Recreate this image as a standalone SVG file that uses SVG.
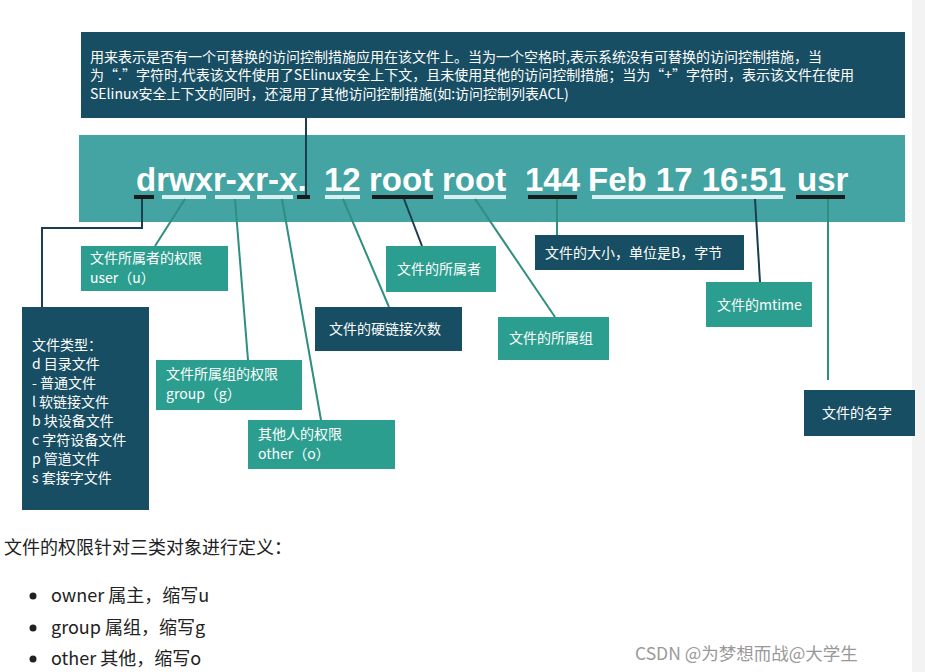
<svg xmlns="http://www.w3.org/2000/svg" width="925" height="672" viewBox="0 0 925 672">
<style>
.d{fill:#174e63}.t{fill:#2c9e8f}
.w{fill:#fff;font-family:"Noto Sans CJK SC","Liberation Sans",sans-serif;font-size:14px}
.big{fill:#fff;font-family:"Liberation Sans",sans-serif;font-weight:bold;font-size:33px}
.cd{stroke:#1a3e4f;stroke-width:2;fill:none}.ct{stroke:#2e8f80;stroke-width:2;fill:none}
.k{fill:#1a1a1a}.l{fill:#d9eeee}
.b{fill:#222;font-family:"Noto Sans CJK SC","Liberation Sans",sans-serif;font-size:18px}
</style>
<rect width="925" height="672" fill="#fff"/>
<rect x="912" y="0" width="13" height="672" fill="#f3f3f3"/>
<g id="acl"><rect class="d" x="81" y="32" width="824" height="86"/>
<text class="w" font-size="13"><tspan x="90" y="62">用来表示是否有一个可替换的访问控制措施应用在该文件上。当为一个空格时,表示系统没有可替换的访问控制措施，当</tspan><tspan x="90" y="80">为“.”字符时,代表该文件使用了SElinux安全上下文，且未使用其他的访问控制措施；当为“+”字符时，表示该文件在使用</tspan><tspan x="90" y="99">SElinux安全上下文的同时，还混用了其他访问控制措施(如:访问控制列表ACL)</tspan></text></g>
<g id="band"><rect x="79" y="135" width="826" height="87" fill="#44a4a4"/>
<text class="big" x="136" y="191">drwxr-xr-x.</text><text class="big" x="324" y="191">12</text><text class="big" x="369" y="191">root</text><text class="big" x="442" y="191">root</text><text class="big" x="525" y="191">144</text><text class="big" x="588" y="191">Feb 17 16:51</text><text class="big" x="797" y="191">usr</text>
<rect class="k" x="134" y="195" width="20" height="4"/><rect class="l" x="162" y="195" width="44" height="4"/><rect class="l" x="215" y="195" width="35" height="4"/><rect class="l" x="257" y="195" width="36" height="4"/><rect class="k" x="297" y="195" width="13" height="4"/><rect class="l" x="325" y="195" width="35" height="4"/><rect class="k" x="372" y="195" width="61" height="4"/><rect class="l" x="444" y="195" width="62" height="4"/><rect class="k" x="528" y="195" width="49" height="4"/><rect class="l" x="592" y="195" width="191" height="4"/><rect class="k" x="796" y="195" width="49" height="4"/></g>
<g id="connectors">
<path class="cd" d="M306 118V195"/>
<path class="cd" d="M142 199V228H42V307"/>
<path class="ct" d="M185 199L155 246"/>
<path class="ct" d="M235 199L248 360"/>
<path class="ct" d="M282 199L321 420"/>
<path class="ct" d="M343 199L389 307"/>
<path class="cd" d="M404 199L422 246"/>
<path class="ct" d="M475 199L555 317"/>
<path class="ct" d="M557 199V235"/>
<path class="cd" d="M755 199L760 282"/>
<path class="ct" d="M828 199V380"/>
</g>
<g id="type"><rect class="d" x="22" y="307" width="127" height="203"/><text class="w" font-size="13.5"><tspan x="32" y="350">文件类型：</tspan><tspan x="32" y="369">d 目录文件</tspan><tspan x="32" y="388">- 普通文件</tspan><tspan x="32" y="407">l 软链接文件</tspan><tspan x="32" y="426">b 块设备文件</tspan><tspan x="32" y="445">c 字符设备文件</tspan><tspan x="32" y="464">p 管道文件</tspan><tspan x="32" y="483">s 套接字文件</tspan></text></g>
<g id="user"><rect class="t" x="81" y="246" width="147" height="45"/><text class="w"><tspan x="90" y="263">文件所属者的权限</tspan><tspan x="90" y="283">user（u）</tspan></text></g>
<g id="group"><rect class="t" x="156" y="360" width="146" height="50"/><text class="w"><tspan x="166" y="379">文件所属组的权限</tspan><tspan x="166" y="399">group（g）</tspan></text></g>
<g id="other"><rect class="t" x="248" y="420" width="147" height="49"/><text class="w"><tspan x="258" y="439">其他人的权限</tspan><tspan x="258" y="459">other（o）</tspan></text></g>
<g id="links"><rect class="d" x="315" y="307" width="147" height="44"/><text class="w" x="329" y="334">文件的硬链接次数</text></g>
<g id="owner"><rect class="t" x="386" y="246" width="110" height="46"/><text class="w" x="397" y="274">文件的所属者</text></g>
<g id="ogroup"><rect class="t" x="498" y="317" width="111" height="43"/><text class="w" x="509" y="343">文件的所属组</text></g>
<g id="size"><rect class="d" x="535" y="235" width="209" height="35"/><text class="w" x="545" y="258">文件的大小，单位是B，字节</text></g>
<g id="mtime"><rect class="t" x="706" y="282" width="106" height="45"/><text class="w" x="717" y="310">文件的mtime</text></g>
<g id="name"><rect class="d" x="804" y="390" width="111" height="46"/><text class="w" x="822" y="418">文件的名字</text></g>
<text class="b" x="4" y="554">文件的权限针对三类对象进行定义：</text>
<circle cx="33" cy="596" r="3.5" fill="#222"/><circle cx="33" cy="628" r="3.5" fill="#222"/><circle cx="33" cy="659" r="3.5" fill="#222"/>
<text class="b"><tspan x="51" y="602">owner 属主，缩写u</tspan><tspan x="51" y="634">group 属组，缩写g</tspan><tspan x="51" y="665">other 其他，缩写o</tspan></text>
<text x="635" y="660" fill="#999" font-family="Noto Sans CJK SC,Liberation Sans,sans-serif" font-size="17.5">CSDN @为梦想而战@大学生</text>
</svg>
